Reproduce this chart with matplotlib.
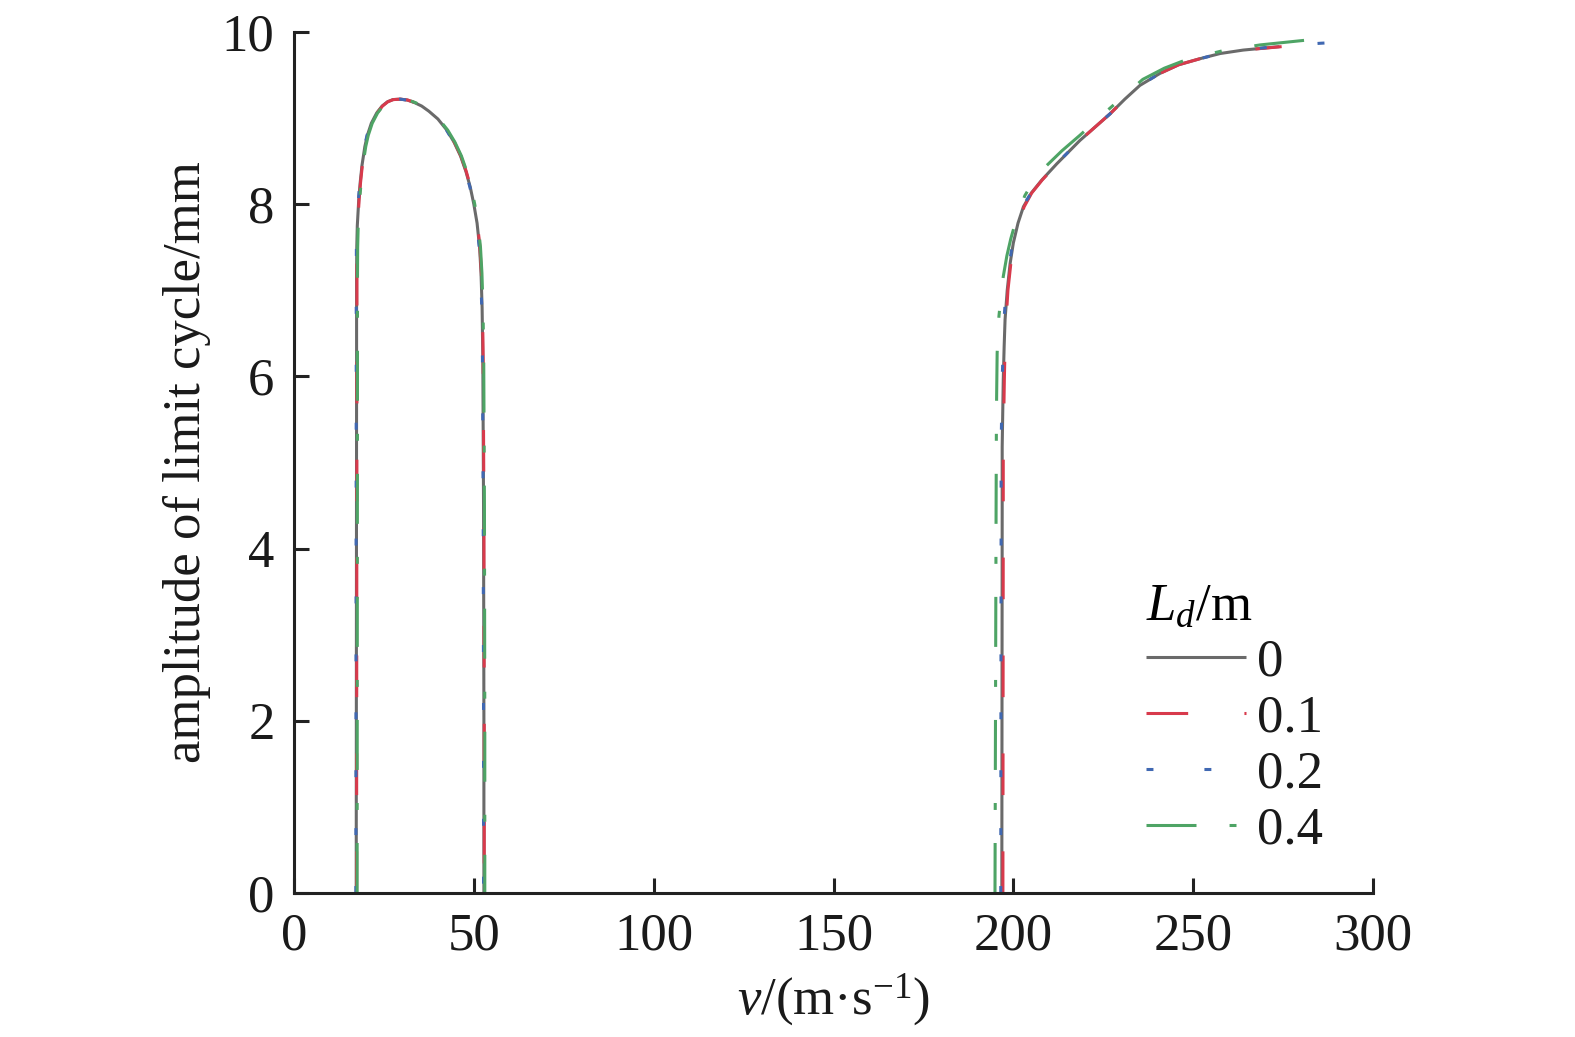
import matplotlib
matplotlib.use('Agg')
import matplotlib.pyplot as plt

plt.rcParams['font.family'] = ['Liberation Serif', 'DejaVu Serif']
plt.rcParams['mathtext.fontset'] = 'custom'
plt.rcParams['mathtext.rm'] = 'Liberation Serif'
plt.rcParams['mathtext.it'] = 'Liberation Serif:italic'
plt.rcParams['lines.scale_dashes'] = False

# ---- data ----
labels = ['0', '0.1', '0.2', '0.4']
colors = ['#6a6a6a', '#d83a4c', '#4068b2', '#4ea465']

# left loop (flutter region 1), same for all Ld within the line width
loop_v = [17.3, 17.35, 17.4, 17.4, 17.45, 17.6, 18.0, 18.4, 18.9, 19.7, 20.4, 21.5,
          23.0, 24.5, 26.0, 27.5, 29.5, 31.5, 33.5, 35.5, 37.5, 40.0, 42.5, 44.5,
          46.3, 47.8, 49.0, 50.0, 50.9, 51.6, 52.0, 52.3, 52.5, 52.7, 52.8, 52.8]
loop_a = [0.0, 3.0, 6.0, 7.12, 7.5, 7.75, 8.05, 8.25, 8.45, 8.67, 8.8, 8.94,
          9.06, 9.14, 9.19, 9.215, 9.22, 9.21, 9.18, 9.14, 9.08, 8.99, 8.86, 8.72,
          8.56, 8.38, 8.2, 8.0, 7.78, 7.5, 7.2, 6.8, 6.2, 4.5, 2.0, 0.0]
loop_dv = [0.0, 0.1, -0.1, 0.25]

# right branch (flutter region 2)
right_v0 = [196.8, 196.9, 196.9, 197.2, 197.45, 197.7, 198.3, 199.1, 200.0, 201.3,
            202.8, 205.0, 207.9, 212.1, 218.5, 226.9, 231.0, 235.2, 240.8, 246.0,
            251.9, 257.5, 263.9, 274.0]
right_a0 = [0.0, 4.41, 5.18, 5.96, 6.35, 6.66, 7.0, 7.31, 7.55, 7.78,
            7.97, 8.13, 8.28, 8.47, 8.74, 9.05, 9.22, 9.38, 9.52, 9.62,
            9.69, 9.75, 9.79, 9.83]

right_v1 = [197.1, 197.2, 197.2, 197.5, 197.7, 198.0, 198.5, 199.3, 200.2, 201.5,
            203.0, 205.1, 208.0, 212.2, 218.5, 226.9, 231.0, 235.2, 240.8, 246.0,
            251.9, 257.5, 263.9, 274.6]
right_a1 = right_a0

right_v2 = [196.5, 196.6, 196.6, 196.9, 197.2, 197.4, 198.0, 198.9, 199.8, 201.1,
            202.6, 204.9, 207.8, 212.0, 218.5, 226.9, 231.0, 235.2, 240.8, 246.0,
            251.9, 257.5, 263.9, 274.6, 285.7, 300.0]
right_a2 = [0.0, 4.41, 5.18, 5.96, 6.35, 6.66, 7.0, 7.31, 7.55, 7.78,
            7.97, 8.13, 8.28, 8.47, 8.74, 9.05, 9.22, 9.38, 9.52, 9.62,
            9.69, 9.75, 9.79, 9.84, 9.87, 9.90]

right_v3 = [194.9, 195.2, 195.3, 195.5, 196.0, 196.6, 197.2, 198.2, 199.3, 201.0,
            203.2, 205.8, 208.8, 213.5, 218.5, 227.0, 236.0, 242.0, 248.2, 258.0,
            268.6, 282.5]
right_a3 = [0.0, 4.4, 5.57, 6.27, 6.7, 6.95, 7.16, 7.4, 7.6, 7.85,
            8.1, 8.28, 8.43, 8.62, 8.80, 9.12, 9.45, 9.58, 9.68, 9.78,
            9.85, 9.91]

right_v = [right_v0, right_v1, right_v2, right_v3]
right_a = [right_a0, right_a1, right_a2, right_a3]

x_ticks = [0, 50, 100, 150, 200, 250, 300]
y_ticks = [0, 2, 4, 6, 8, 10]

# dash patterns in points (on, off, ...)
dash_styles = [None, (0, (30, 40.5)), (0, (5, 36.7)), (0, (36, 23.8, 5, 23.8))]

fig = plt.figure(figsize=(15.75, 10.37), dpi=100)
ax = fig.add_axes([294 / 1575, 1 - 893 / 1037, (1373 - 294) / 1575, (893 - 32) / 1037])

lw = 2.2
for i in range(4):
    ls = '-' if dash_styles[i] is None else dash_styles[i]
    lv = [v + loop_dv[i] for v in loop_v]
    ax.plot(lv, loop_a, color=colors[i], lw=lw, linestyle=ls, clip_on=False,
            solid_capstyle='butt', dash_capstyle='butt', solid_joinstyle='round')
    ax.plot(right_v[i], right_a[i], color=colors[i], lw=lw, linestyle=ls, clip_on=False,
            label=labels[i], solid_capstyle='butt', dash_capstyle='butt',
            solid_joinstyle='round')

ax.set_xlim(0, 300)
ax.set_ylim(0, 10)
ax.set_xticks(x_ticks)
ax.set_yticks(y_ticks)
ax.spines['top'].set_visible(False)
ax.spines['right'].set_visible(False)
for s in ['left', 'bottom']:
    ax.spines[s].set_linewidth(2.2)
    ax.spines[s].set_color('#222222')
ax.tick_params(direction='in', length=11, width=2.2, pad=14, labelsize=38, colors='#222222')
ax.tick_params(labelcolor='#1a1a1a')

ax.set_xlabel(r'$v$/(m·s$^{-1}$)', fontsize=38, labelpad=8, color='#1a1a1a')
ax.set_ylabel('amplitude of limit cycle/mm', fontsize=38, labelpad=8, color='#1a1a1a')

leg = ax.legend(title=r'$L_d$/m', loc='lower left', bbox_to_anchor=(0.7696, 0.02),
                frameon=False, fontsize=38, title_fontsize=38, handlelength=1.9,
                handletextpad=0.22, labelspacing=0.15, borderaxespad=0.0,
                alignment='left')
for t in leg.get_texts():
    t.set_color('#1a1a1a')

fig.savefig('out.png', dpi=100, facecolor='white')
